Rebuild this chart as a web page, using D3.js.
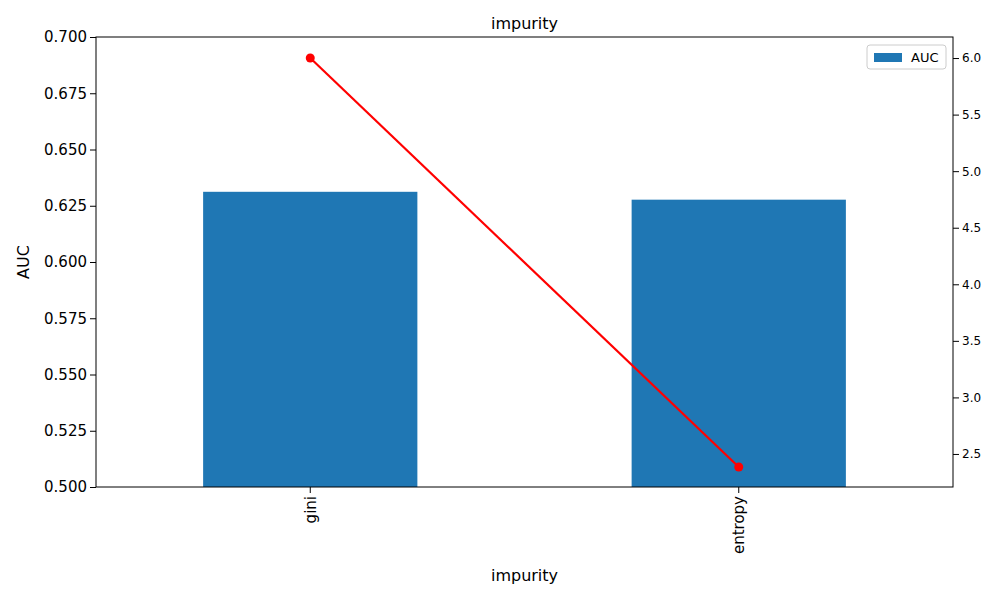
<!DOCTYPE html>
<html><head><meta charset="utf-8">
<script src="https://cdn.jsdelivr.net/npm/d3@7"></script>
<style>body{margin:0;background:#fff;font-family:"DejaVu Sans",sans-serif}</style>
</head><body><svg id="c" width="1000" height="600"></svg>
<script>
const categories = ["gini","entropy"];
const aucValues = [0.6312, 0.6277];
const lineValues = [6.0, 2.385];
const leftTicks = [0.500,0.525,0.550,0.575,0.600,0.625,0.650,0.675,0.700];
const rightTicks = [2.5,3.0,3.5,4.0,4.5,5.0,5.5,6.0];

const svg = d3.select("#c");
const L=96,R=953,T=37,B=487;
const x = d3.scaleBand().domain(categories).range([L,R]).paddingInner(0.5).paddingOuter(0.25);
const y = d3.scaleLinear().domain([0.5,0.7]).range([B,T]);
const y2 = d3.scaleLinear().domain([2.208,6.186]).range([B,T]);

svg.selectAll("rect.bar").data(categories).join("rect")
  .attr("x",d=>x(d)).attr("width",x.bandwidth())
  .attr("y",(d,i)=>y(aucValues[i])).attr("height",(d,i)=>B-y(aucValues[i]))
  .attr("fill","#1f77b4");

const ga = svg.append("g").attr("transform",`translate(${L},0)`)
  .call(d3.axisLeft(y).tickValues(leftTicks).tickFormat(d3.format(".3f")).tickSizeOuter(0));
ga.selectAll("text").attr("font-size",15).attr("font-family","DejaVu Sans");
const gb = svg.append("g").attr("transform",`translate(0,${B})`)
  .call(d3.axisBottom(x).tickSizeOuter(0));
gb.selectAll("text").attr("font-size",15).attr("font-family","DejaVu Sans")
  .attr("transform","rotate(-90)").attr("text-anchor","end").attr("x",-9).attr("y",0).attr("dy","0.35em");
const gr = svg.append("g").attr("transform",`translate(${R},0)`)
  .call(d3.axisRight(y2).tickValues(rightTicks).tickFormat(d3.format(".1f")).tickSizeOuter(0));
gr.selectAll("text").attr("font-size",12).attr("font-family","DejaVu Sans");
svg.selectAll(".domain").remove();
svg.selectAll(".tick line").attr("stroke","#000");
svg.append("rect").attr("x",L).attr("y",T).attr("width",R-L).attr("height",B-T)
  .attr("fill","none").attr("stroke","#000");

const line = d3.line().x((d,i)=>x(categories[i])+x.bandwidth()/2).y(d=>y2(d));
svg.append("path").datum(lineValues).attr("d",line).attr("fill","none").attr("stroke","red").attr("stroke-width",2.2);
svg.selectAll("circle.pt").data(lineValues).join("circle")
  .attr("cx",(d,i)=>x(categories[i])+x.bandwidth()/2).attr("cy",d=>y2(d)).attr("r",4.5).attr("fill","red");

svg.append("text").attr("x",(L+R)/2).attr("y",29).attr("text-anchor","middle").attr("font-size",16).text("impurity");
svg.append("text").attr("x",(L+R)/2).attr("y",581).attr("text-anchor","middle").attr("font-size",16).text("impurity");
svg.append("text").attr("transform",`translate(29,${(T+B)/2}) rotate(-90)`).attr("text-anchor","middle").attr("font-size",16).text("AUC");

const lg = svg.append("g").attr("transform","translate(867,45)");
lg.append("rect").attr("width",79).attr("height",24).attr("rx",3).attr("fill","#fff").attr("stroke","#ccc");
lg.append("rect").attr("x",7).attr("y",8).attr("width",28).attr("height",9).attr("fill","#1f77b4");
lg.append("text").attr("x",44).attr("y",16.5).attr("font-size",13).text("AUC");
</script></body></html>
